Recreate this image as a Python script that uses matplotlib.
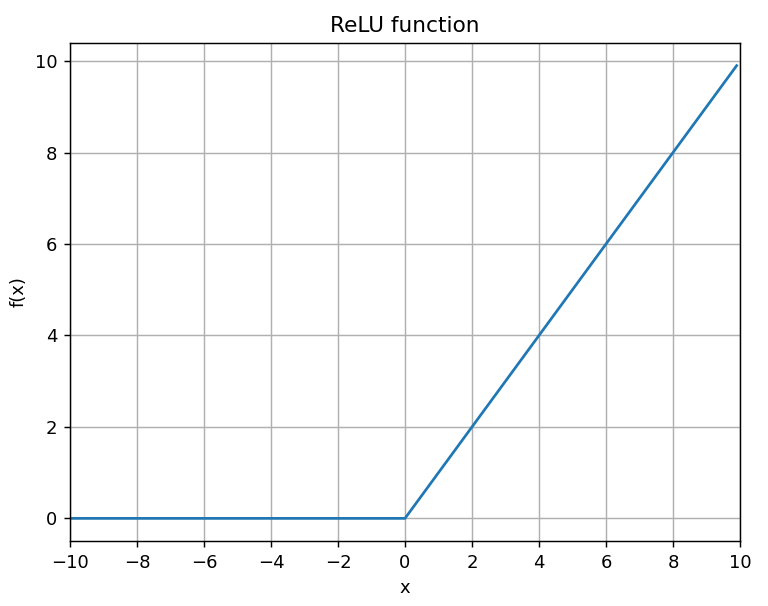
import matplotlib
matplotlib.use('Agg')
from matplotlib import pyplot as plt

# breakpoints of the plotted ReLU curve
x = [-10.0, 0.0, 9.9]
y = [0.0, 0.0, 9.9]
xticks = [-10, -8, -6, -4, -2, 0, 2, 4, 6, 8, 10]

dpi = 130
fig = plt.figure(figsize=(768 / dpi, 606 / dpi), dpi=dpi)
ax = fig.add_axes([70 / 768, 1 - 541 / 606, 670 / 768, 498 / 606])
ax.plot(x, y)
ax.set_xlim(-10, 10)
ax.set_xticks(xticks)
ax.set_title('ReLU function')
ax.set_xlabel('x')
ax.set_ylabel('f(x)')
ax.grid(True)
fig.savefig('out.png', dpi=dpi)
